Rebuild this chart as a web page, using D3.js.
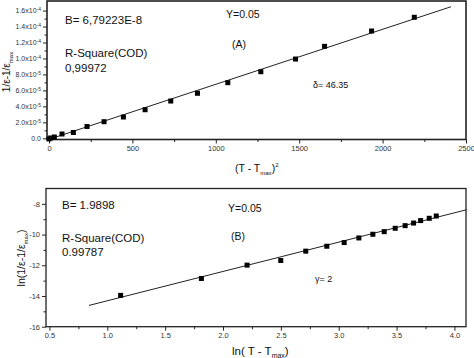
<!DOCTYPE html>
<html><head><meta charset="utf-8">
<script src="https://cdn.jsdelivr.net/npm/d3@7"></script>
<style>body{margin:0;background:#fff}svg{display:block;font-family:"Liberation Sans",Arial,sans-serif}</style>
</head><body>
<svg id="c" width="474" height="358"></svg>
<script>
// ---- Panel A data ----
const xA = [0, 10, 32, 78, 146, 228, 330, 446, 576, 730, 890, 1072, 1270, 1478, 1652, 1934, 2190];
const yA = [-0.8e-6, 0.4e-6, 1.6e-6, 5.4e-6, 7.3e-6, 1.48e-5, 2.08e-5, 2.67e-5, 3.58e-5, 4.67e-5, 5.64e-5, 6.97e-5, 8.34e-5, 9.93e-5, 1.152e-4, 1.344e-4, 1.516e-4];
const fitA = {slope: 6.89e-8, intercept: -1.25e-6, from: 0, to: 2410};
const xTicksA = [0, 500, 1000, 1500, 2000, 2500];
const xMinorA = [250, 750, 1250, 1750, 2250];
const yTicksA = [0, 2e-5, 4e-5, 6e-5, 8e-5, 1e-4, 1.2e-4, 1.4e-4, 1.6e-4];
const yTickMantA = ["0.0", "2.0", "4.0", "6.0", "8.0", "1.0", "1.2", "1.4", "1.6"];
const yTickExpA = [null, "-5", "-5", "-5", "-5", "-4", "-4", "-4", "-4"];
const yMinorA = [1e-5, 3e-5, 5e-5, 7e-5, 9e-5, 1.1e-4, 1.3e-4, 1.5e-4];

// ---- Panel B data ----
const xB = [1.115, 1.813, 2.208, 2.499, 2.715, 2.897, 3.047, 3.174, 3.295, 3.393, 3.488, 3.574, 3.647, 3.708, 3.782, 3.843];
const yB = [-13.96, -12.86, -11.99, -11.69, -11.08, -10.76, -10.52, -10.22, -9.98, -9.81, -9.59, -9.42, -9.25, -9.09, -8.94, -8.79];
const fitB = {slope: 1.909, intercept: -16.22, from: 0.841, to: 4.105};
const xTicksB = [0.5, 1.0, 1.5, 2.0, 2.5, 3.0, 3.5, 4.0];
const xMinorB = [0.75, 1.25, 1.75, 2.25, 2.75, 3.25, 3.75];
const yTicksB = [-16, -14, -12, -10, -8];
const yMinorB = [-15, -13, -11, -9];

const svg = d3.select("#c");
const ink = "#222";

function panel(o) {
  const g = svg.append("g");
  const x = d3.scaleLinear().domain(o.xDom).range([o.left, o.right]);
  const y = d3.scaleLinear().domain(o.yDom).range([o.bottom, o.top]);
  // frame
  g.append("rect").attr("x", o.left).attr("y", o.top)
    .attr("width", o.right - o.left).attr("height", o.bottom - o.top)
    .attr("fill", "none").attr("stroke", ink).attr("stroke-width", o.frameW || 1.3);
  // x axis
  const xa = d3.axisBottom(x).tickValues(o.xTicks).tickSize(4).tickPadding(2).tickFormat(o.xFmt);
  const gx = g.append("g").attr("transform", `translate(0,${o.bottom})`).call(xa);
  gx.select(".domain").remove();
  gx.selectAll("line").attr("stroke", ink);
  gx.selectAll("text").attr("font-size", 7.5).attr("fill", "#333");
  g.append("g").attr("transform", `translate(0,${o.bottom})`)
    .call(d3.axisBottom(x).tickValues(o.xMinor).tickSize(2.5).tickFormat(""))
    .call(s => { s.select(".domain").remove(); s.selectAll("line").attr("stroke", ink); });
  // y axis
  const ya = d3.axisLeft(y).tickValues(o.yTicks).tickSize(4).tickPadding(2).tickFormat(() => "");
  const gy = g.append("g").attr("transform", `translate(${o.left},0)`).call(ya);
  gy.select(".domain").remove();
  gy.selectAll("line").attr("stroke", ink);
  gy.selectAll(".tick").each(function (d, i) { o.yLabel(d3.select(this), d, i); });
  g.append("g").attr("transform", `translate(${o.left},0)`)
    .call(d3.axisLeft(y).tickValues(o.yMinor).tickSize(2.5).tickFormat(""))
    .call(s => { s.select(".domain").remove(); s.selectAll("line").attr("stroke", ink); });
  // fit line
  const f = o.fit;
  g.append("line")
    .attr("x1", x(f.from)).attr("y1", y(f.slope * f.from + f.intercept))
    .attr("x2", x(f.to)).attr("y2", y(f.slope * f.to + f.intercept))
    .attr("stroke", ink).attr("stroke-width", 1);
  // points
  const s = 5;
  g.selectAll("rect.pt").data(o.xs.map((v, i) => [v, o.ys[i]])).join("rect")
    .attr("class", "pt")
    .attr("x", d => x(d[0]) - s / 2).attr("y", d => y(d[1]) - s / 2)
    .attr("width", s).attr("height", s).attr("fill", "#000");
  return g;
}

panel({
  left: 47, right: 466, top: 1, bottom: 139.5, frameW: 1.6,
  xDom: [-12, 2500], yDom: [-1.5e-6, 1.72e-4],
  xTicks: xTicksA, xMinor: xMinorA, yTicks: yTicksA, yMinor: yMinorA,
  xFmt: d3.format("d"),
  yLabel: (t, d, i) => {
    const tx = t.append("text").attr("x", -6).attr("dy", "0.32em")
      .attr("text-anchor", "end").attr("font-size", 7).attr("fill", "#333");
    if (yTickExpA[i] === null) { tx.text(yTickMantA[i]); }
    else {
      tx.append("tspan").text(yTickMantA[i] + "x10");
      tx.append("tspan").attr("font-size", 5).attr("dy", "-0.5em").text(yTickExpA[i]);
    }
  },
  xs: xA, ys: yA, fit: fitA
});

panel({
  left: 46, right: 466, top: 188.5, bottom: 326.7,
  xDom: [0.47, 4.1], yDom: [-16, -7],
  xTicks: xTicksB, xMinor: xMinorB, yTicks: yTicksB, yMinor: yMinorB,
  xFmt: d3.format(".1f"),
  yLabel: (t, d) => {
    t.append("text").attr("x", -6).attr("dy", "0.32em")
      .attr("text-anchor", "end").attr("font-size", 7.5).attr("fill", "#333").text(d);
  },
  xs: xB, ys: yB, fit: fitB
});

// ---- annotations ----
function txt(x, y, s, size) {
  return svg.append("text").attr("x", x).attr("y", y).attr("font-size", size)
    .attr("fill", "#111").text(s);
}
txt(65, 24, "B= 6,79223E-8", 11.5);
txt(65, 57, "R-Square(COD)", 11.5);
txt(65, 72, "0,99972", 11.5);
txt(226, 18, "Y=0.05", 10.5);
txt(232, 48, "(A)", 10.5);
txt(313, 88, "δ= 46.35", 9);

txt(62, 209, "B= 1.9898", 11.5);
txt(62, 242, "R-Square(COD)", 11.5);
txt(62, 256, "0.99787", 11.5);
txt(228, 212, "Y=0.05", 10.5);
txt(231, 240, "(B)", 10.5);
txt(315, 282, "γ= 2", 9);

// axis titles
const tA = svg.append("text").attr("x", 235).attr("y", 172).attr("font-size", 10.5).attr("fill", "#111");
tA.append("tspan").text("(T - T");
tA.append("tspan").attr("font-size", 6).attr("dy", 3).text("max");
tA.append("tspan").attr("dy", -3).text(")");
tA.append("tspan").attr("font-size", 6).attr("dy", -5).text("2");

const tB = svg.append("text").attr("x", 232).attr("y", 355).attr("font-size", 11.5).attr("fill", "#111");
tB.append("tspan").text("ln( T - T");
tB.append("tspan").attr("font-size", 7).attr("dy", 3).text("max");
tB.append("tspan").attr("dy", -3).text(")");

const yTA = svg.append("text").attr("transform", "translate(10,72) rotate(-90)")
  .attr("text-anchor", "middle").attr("font-size", 10).attr("fill", "#111");
yTA.append("tspan").text("1/ε-1/ε");
yTA.append("tspan").attr("font-size", 6).attr("dy", 3).text("max");

const yTB = svg.append("text").attr("transform", "translate(25,258) rotate(-90)")
  .attr("text-anchor", "middle").attr("font-size", 10.5).attr("fill", "#111");
yTB.append("tspan").text("ln(1/ε-1/ε");
yTB.append("tspan").attr("font-size", 6).attr("dy", 3).text("max");
yTB.append("tspan").attr("dy", -3).text(")");
</script>
</body></html>
